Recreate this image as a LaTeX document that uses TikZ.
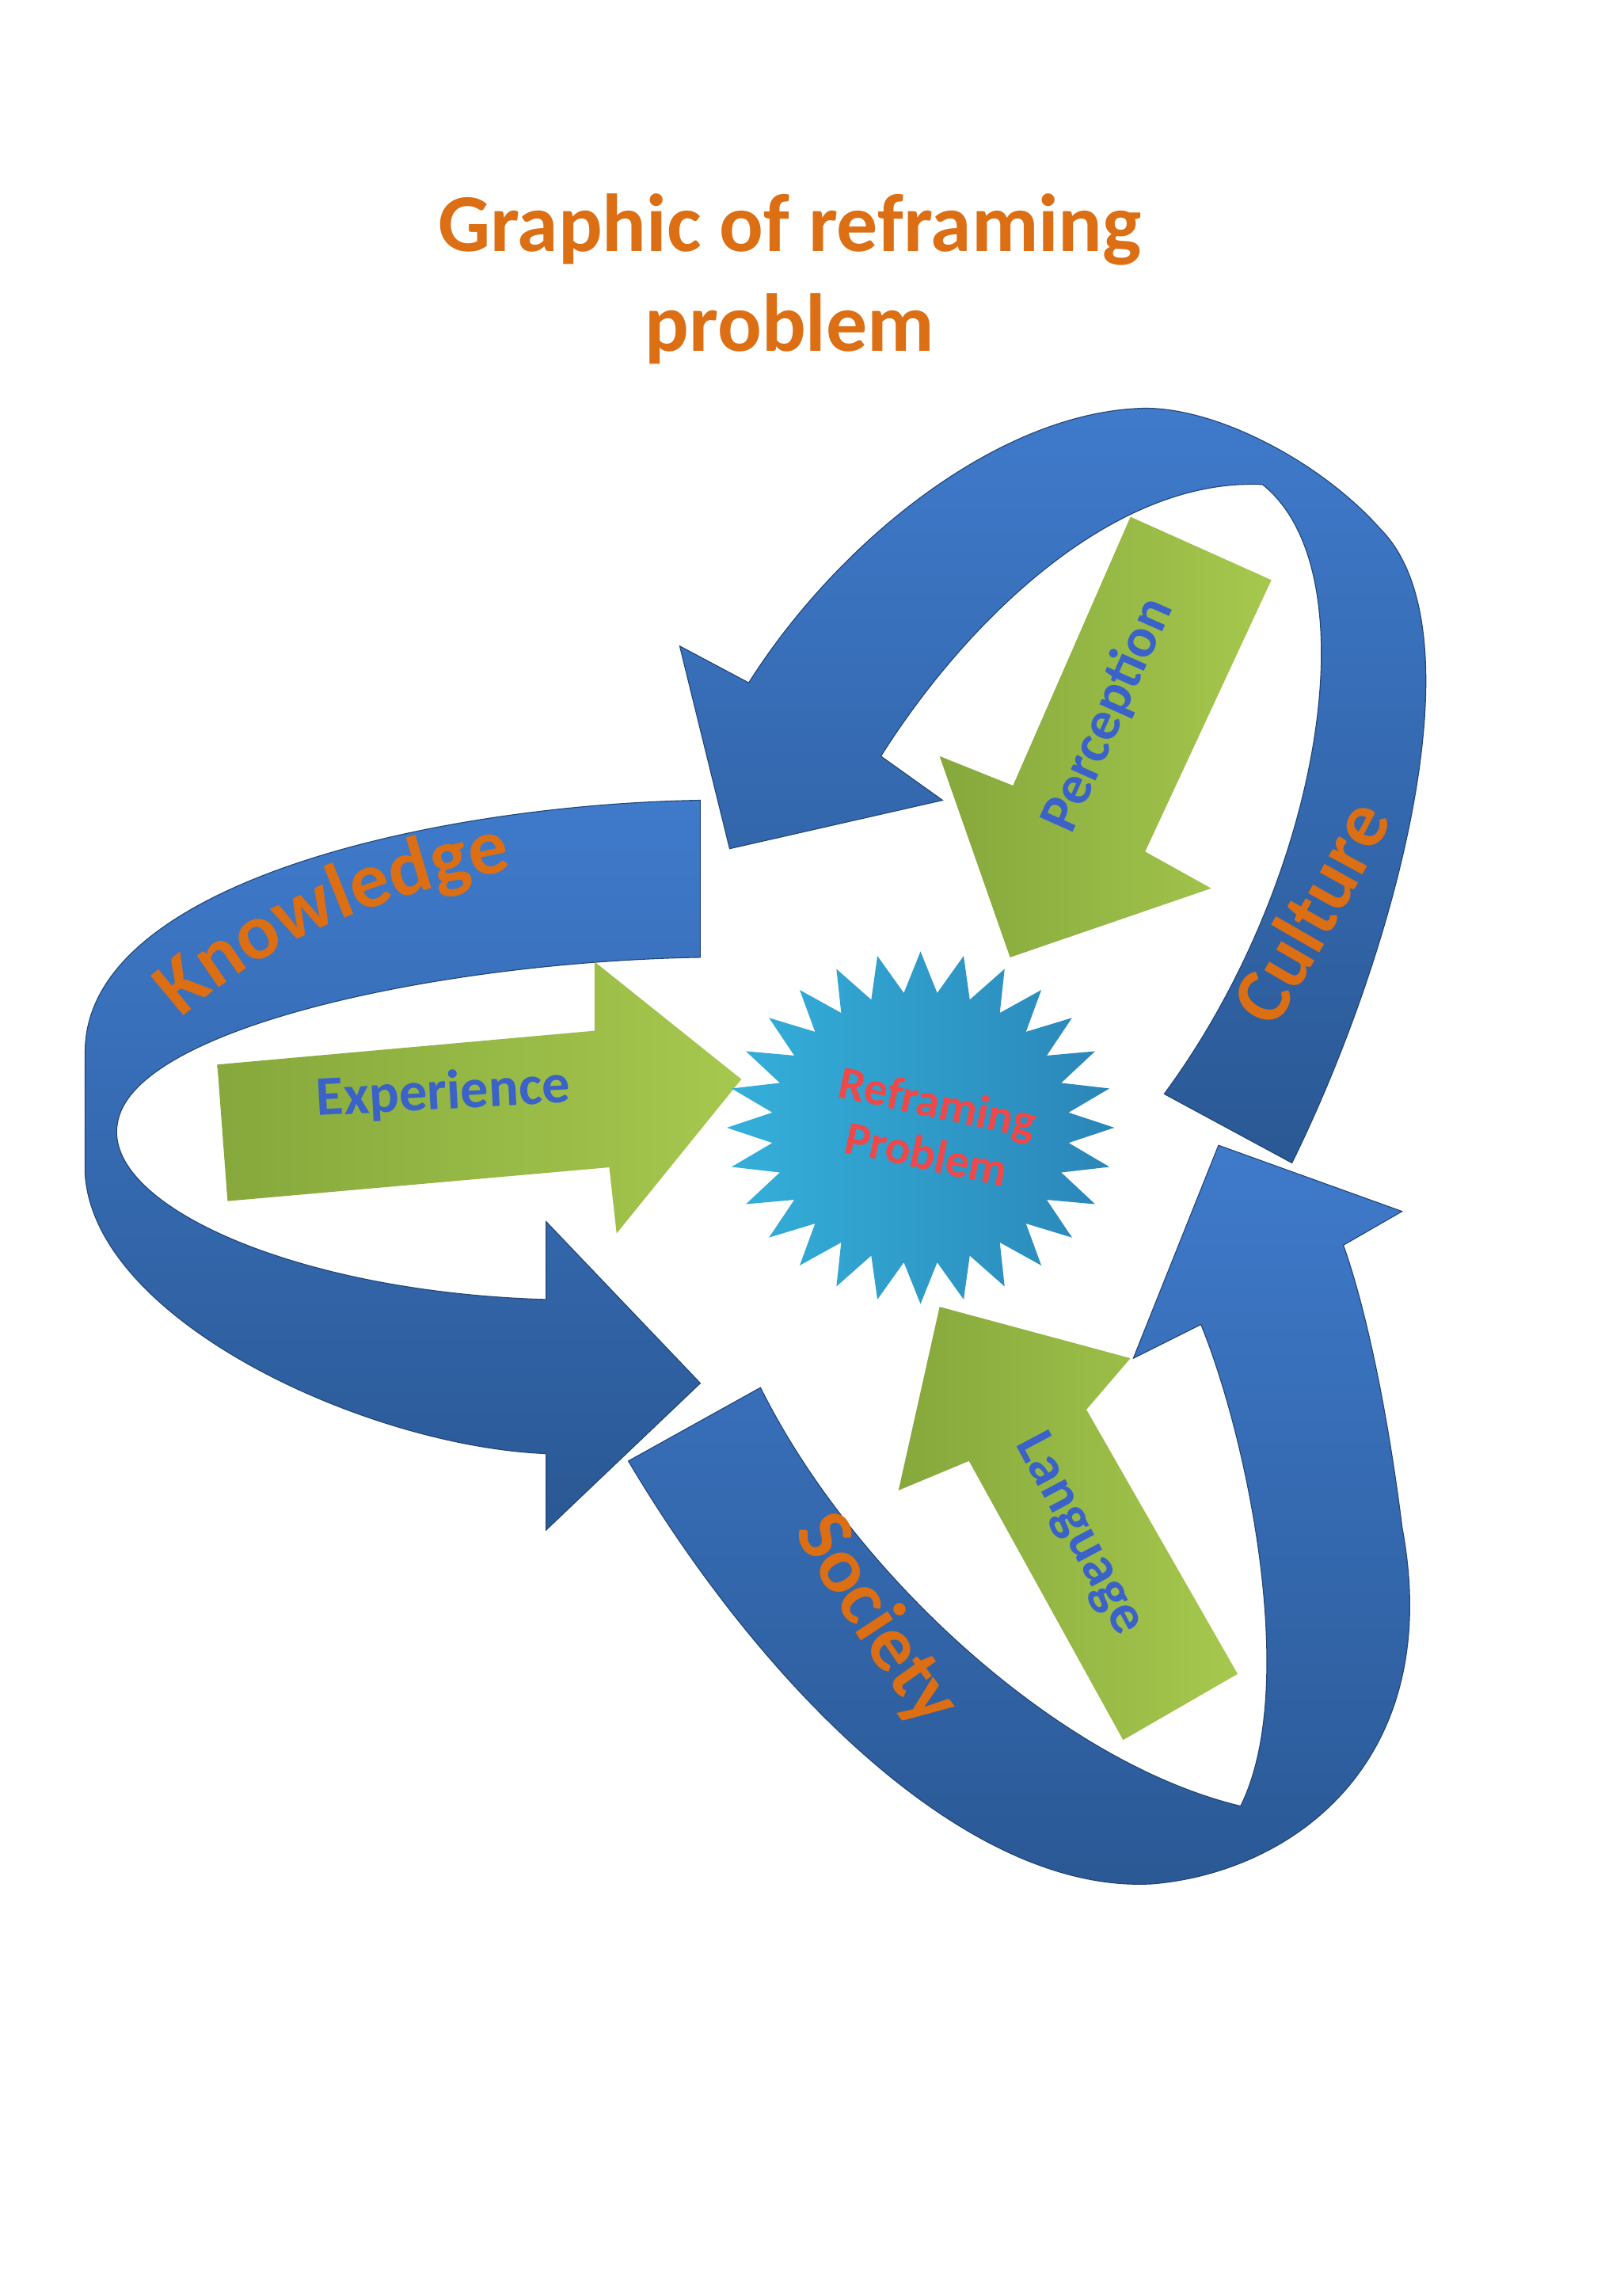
\documentclass[tikz,border=0pt]{standalone}
\usepackage{fontspec}
\setmainfont{Carlito}
\usetikzlibrary{decorations.text,shapes.geometric}
\definecolor{orng}{HTML}{DC6E14}
\definecolor{blueA}{HTML}{3F7ACB}
\definecolor{blueB}{HTML}{2A5894}
\definecolor{greenA}{HTML}{86A83C}
\definecolor{greenB}{HTML}{A6C84E}
\definecolor{starA}{HTML}{34B0DA}
\definecolor{starB}{HTML}{2A86B8}
\definecolor{lblue}{HTML}{3A62C8}
\definecolor{lred}{HTML}{F04848}
\tikzset{
  ribbon/.style={top color=blueA, bottom color=blueB, draw=blueB!80!black, line width=0.6pt},
  garrow/.style={left color=greenA, right color=greenB, draw=none},
  blabel/.style={font=\fontsize{38}{38}\selectfont\bfseries, text=lblue},
}
\begin{document}
\begin{tikzpicture}[x=1pt,y=-1pt]
\useasboundingbox (0,0) rectangle (1106,1563);
\fill[white] (0,0) rectangle (1106,1563);
% title
\node[font=\fontsize{56}{68}\selectfont\bfseries, text=orng, align=center] (title) at (538,190) {Graphic of reframing\\problem};
% ribbon left
\path[ribbon] (477,545) .. controls (300,548) and (60,600) .. (58,715) -- (58,800)
  .. controls (65,900) and (250,985) .. (372,990) -- (372,1042) -- (477,942) -- (372,832) -- (372,885)
  .. controls (200,880) and (70,820) .. (80,765) .. controls (90,700) and (300,655) .. (477,652) -- cycle;
% ribbon bottom right
\path[ribbon] (428,995) .. controls (520,1150) and (660,1290) .. (785,1283)
  .. controls (880,1275) and (985,1200) .. (955,1040) .. controls (945,960) and (930,890) .. (915,848)
  -- (955,825) -- (830,780) -- (772,925) -- (818,902)
  .. controls (850,980) and (885,1150) .. (845,1230)
  .. controls (720,1200) and (580,1070) .. (518,945) -- cycle;
% ribbon top right
\path[ribbon] (793,745) -- (880,792) .. controls (950,650) and (1010,430) .. (940,360)
  .. controls (900,315) and (830,278) .. (780,278) .. controls (680,280) and (570,370) .. (510,465)
  -- (463,440) -- (497,578) -- (642,545) -- (600,515)
  .. controls (660,420) and (760,325) .. (860,330) .. controls (935,390) and (900,600) .. (793,745) -- cycle;
% green arrows
\path[garrow] (148,725) -- (405,702) -- (405,655) -- (505,735) -- (420,840) -- (415,795) -- (155,818) -- cycle;
\path[garrow] (770,352) -- (866,395) -- (780,580) -- (825,605) -- (688,652) -- (640,515) -- (690,535) -- cycle;
\path[garrow] (765,1185) -- (843,1140) -- (740,960) -- (770,925) -- (640,890) -- (612,1015) -- (660,995) -- cycle;
% starburst
\node[star, star points=28, star point ratio=1.3, minimum size=240pt, inner sep=0pt,
  left color=starA, right color=starB, draw=none, xscale=1.1] (burst) at (627,768) {};
\node[font=\fontsize{32}{36}\selectfont\bfseries, text=lred, align=center, rotate=-12] (center) at (635,768) {Reframing\\Problem};
% labels
\node[blabel, rotate=3] (exp) at (302,745) {Experience};
\node[blabel, rotate=66] (perc) at (755,487) {Perception};
\node[blabel, rotate=-62] (lang) at (735,1045) {Language};
\path[decorate, decoration={text along path, text align=center,
  text={|\fontsize{54}{54}\selectfont\bfseries\color{orng}|Knowledge}}]
  (92,728) .. controls (160,640) and (280,600) .. (395,585);
\path[decorate, decoration={text along path, text align=center,
  text={|\fontsize{54}{54}\selectfont\bfseries\color{orng}|Culture}}]
  (838,752) .. controls (880,680) and (930,600) .. (975,505);
\path[decorate, decoration={text along path, text align=center,
  text={|\fontsize{54}{54}\selectfont\bfseries\color{orng}|Society}}]
  (508,985) .. controls (560,1080) and (610,1160) .. (672,1230);
\end{tikzpicture}
\end{document}
